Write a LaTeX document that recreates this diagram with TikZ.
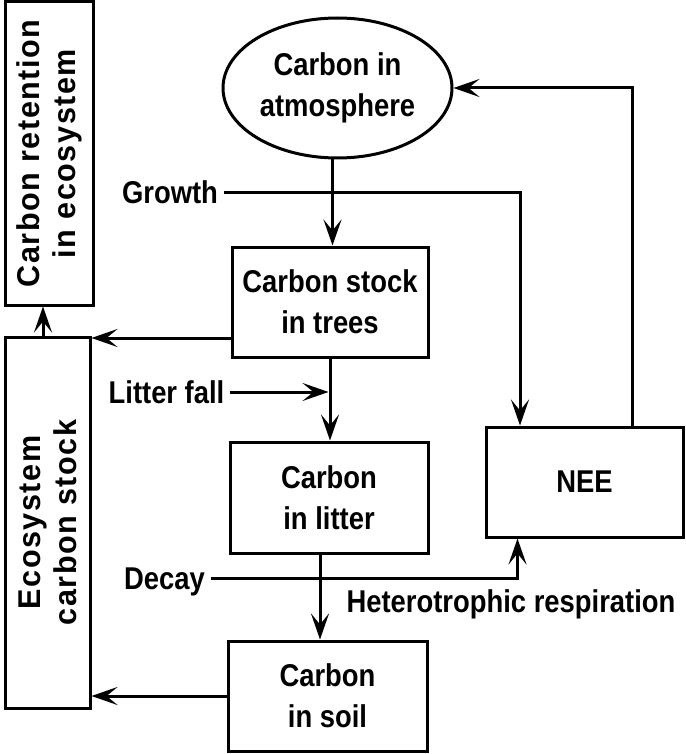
\documentclass[tikz,border=0pt]{standalone}
\usepackage{fontspec}
\setmainfont{Liberation Sans}[FakeStretch=0.87]
\newfontfamily\rotfamily{Liberation Sans}[FakeStretch=0.97, LetterSpace=5]
\usetikzlibrary{arrows.meta,shapes.geometric,calc}
\newcommand\labfont{\fontsize{31.5}{41}\selectfont\bfseries}
\newcommand\rotlabfont{\rotfamily\fontsize{31.5}{36}\selectfont\bfseries}
\tikzset{
  box/.style={draw, line width=3pt, rectangle, align=center, inner sep=0pt, font=\labfont},
  rotbox/.style={box, rotate=90, font=\rotlabfont},
  conn/.style={line width=3pt, -{Stealth[length=26pt, width=18pt, inset=11pt]}},
  lbl/.style={inner sep=0pt, font=\labfont, text height=23pt, text depth=0pt}}
\begin{document}
\begin{tikzpicture}[x=1pt,y=-1pt]
\useasboundingbox (0,0) rectangle (685,754);

% nodes
\node[box, ellipse, minimum width=229pt, minimum height=140pt] (atm) at (337.5,88) {Carbon in\\atmosphere};
\node[box, minimum width=196pt, minimum height=110pt] (trees) at (330,302) {Carbon stock\\in trees};
\node[box, minimum width=198pt, minimum height=111pt] (litter) at (329,497.5) {Carbon\\in litter};
\node[box, minimum width=199pt, minimum height=110pt] (soil) at (327.5,696) {Carbon\\in soil};
\node[box, minimum width=197pt, minimum height=110pt] (nee) at (584.5,482) {NEE};
\node[rotbox, minimum width=303pt, minimum height=88pt] (ret) at (49,153.5) {Carbon retention\\in ecosystem};
\node[rotbox, minimum width=371pt, minimum height=85pt] (eco) at (47.5,522.5) {Ecosystem\\carbon stock};

% labels
\node[lbl] (growth) at (170,192) {Growth};
\node[lbl] (lf) at (166.5,392) {Litter fall};
\node[lbl] (decay) at (164.5,578) {Decay};
\node[lbl] (het) at (511,601) {Heterotrophic respiration};

% connectors (rotated boxes: east = top, south = right side, west = bottom)
\coordinate (a1) at ($(atm.south)+(-5,0)$);
\draw[conn] (a1) -- (a1 |- trees.north);
\draw[conn] ([xshift=6pt]growth.east) -| ($(nee.north)+(-64.5,0)$);
\draw[conn] ($(nee.north)+(47.5,0)$) |- (atm.east);
\coordinate (t1) at ($(trees.west)+(0,36)$);
\draw[conn] (t1) -- (t1 -| eco.south);
\draw[conn] (eco.east -| 43,0) -- (ret.west -| 43,0);
\draw[conn, shorten >=1.5pt] ([xshift=5pt]lf.east) -- (lf.east -| trees.south);
\draw[conn] (trees.south) -- (trees.south |- litter.north);
\coordinate (l1) at ($(litter.south)+(-9,0)$);
\draw[conn] (l1) -- (l1 |- soil.north);
\draw[conn] ([xshift=6pt]decay.east) -| ($(nee.south)+(-67,0)$);
\draw[conn] (soil.west) -- (soil.west -| eco.south);
\end{tikzpicture}
\end{document}
